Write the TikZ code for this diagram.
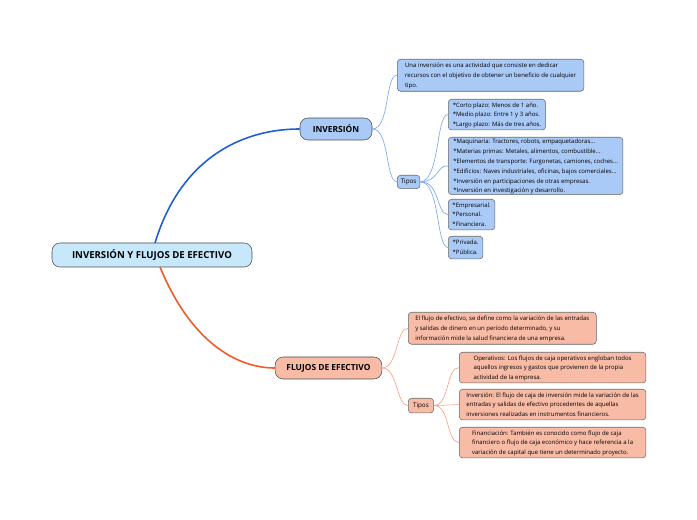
\documentclass[tikz,border=0pt]{standalone}
\usepackage{fontspec}
\setmainfont{Open Sans}
\definecolor{bfill}{HTML}{A9C9F7}
\definecolor{rootfill}{HTML}{C6E8FA}
\definecolor{bline}{HTML}{1F5FCF}
\definecolor{bthin}{HTML}{7FA9EE}
\definecolor{ofill}{HTML}{F8BBA6}
\definecolor{oline}{HTML}{F25A2A}
\definecolor{othin}{HTML}{F5A58A}
\begin{document}
\begin{tikzpicture}[x=0.75pt,y=-0.75pt,
  box/.style={draw=black!60,rounded corners=2.5pt,inner sep=0pt,inner xsep=3pt,font=\fontsize{4.5}{7.4}\selectfont,align=left,minimum width=#1,anchor=north west,text depth=0pt},
  bb/.style={box=#1,fill=bfill},
  ob/.style={box=#1,fill=ofill},
  tbox/.style={draw=black!60,rounded corners=2.5pt,inner sep=0pt,font=\fontsize{4.7}{6}\selectfont,anchor=north west},
  lvl/.style={draw=black!70,rounded corners=6pt,font=\bfseries\fontsize{6.3}{8}\selectfont,inner sep=0pt},
  bc/.style={bthin,line width=0.5pt},
  oc/.style={othin,line width=0.5pt}]
\useasboundingbox (0,0) rectangle (697,520);
% root
\node[lvl,fill=rootfill,minimum width=150pt,minimum height=18pt,font=\bfseries\fontsize{7.2}{9}\selectfont] (root) at (152,255) {INVERSIÓN Y FLUJOS DE EFECTIVO};
\node[lvl,fill=bfill,minimum width=54pt,minimum height=16.5pt] (inv) at (336,129) {INVERSIÓN};
\node[lvl,fill=ofill,minimum width=80pt,minimum height=16.5pt] (flu) at (328.5,368) {FLUJOS DE EFECTIVO};
\draw[bline,line width=1.2pt] (155,243) .. controls (180,160) and (240,129) .. (inv.west);
\draw[oline,line width=1.2pt] (160,267) .. controls (190,340) and (235,368) .. (flu.west);
% blue side
\node[bb=140pt,minimum height=24pt] (def) at (397,59) {Una inversión es una actividad que consiste en dedicar\\recursos con el objetivo de obtener un beneficio de cualquier\\tipo.};
\node[tbox,fill=bfill,minimum width=17pt,minimum height=10pt] (tip) at (397,175) {Tipos};
\node[bb=73pt,minimum height=23pt] (b1) at (448,99) {*Corto plazo: Menos de 1 año.\\[0pt]*Medio plazo: Entre 1 y 3 años.\\[0pt]*Largo plazo: Más de tres años.};
\node[bb=131pt,minimum height=43pt] (b2) at (448,137) {*Maquinaria: Tractores, robots, empaquetadoras...\\[0pt]*Materias primas: Metales, alimentos, combustible...\\[0pt]*Elementos de transporte: Furgonetas, camiones, coches...\\[0pt]*Edificios: Naves industriales, oficinas, bajos comerciales...\\[0pt]*Inversión en participaciones de otras empresas.\\[0pt]*Inversión en investigación y desarrollo.};
\node[bb=35pt,minimum height=23pt] (b3) at (448,199) {*Empresarial.\\[0pt]*Personal.\\[0pt]*Financiera.};
\node[bb=26pt,minimum height=17pt] (b4) at (448,236) {*Privada.\\[0pt]*Pública.};
\draw[bc] (inv.east) .. controls (390,129) and (385,75) .. (def.west);
\draw[bc] (inv.east) .. controls (390,129) and (385,181) .. (tip.west);
\draw[bc] (tip.east) .. controls (440,181) and (436,114) .. (b1.west);
\draw[bc] (tip.east) .. controls (440,181) and (436,165) .. (b2.west);
\draw[bc] (tip.east) .. controls (440,181) and (436,214) .. (b3.west);
\draw[bc] (tip.east) .. controls (440,181) and (436,247) .. (b4.west);
% orange side
\node[ob=141pt,minimum height=24pt] (fdef) at (408,312) {El flujo de efectivo, se define como la variación de las entradas\\y salidas de dinero en un período determinado, y su\\información mide la salud financiera de una empresa.};
\node[tbox,fill=ofill,minimum width=19pt,minimum height=11pt] (tip2) at (408,398) {Tipos};
\node[ob=140pt,minimum height=23pt] (o1) at (459,352) {Operativos: Los flujos de caja operativos engloban todos\\aquellos ingresos y gastos que provienen de la propia\\actividad de la empresa.};
\node[ob=140pt,minimum height=23pt] (o2) at (459,389) {Inversión: El flujo de caja de inversión mide la variación de las\\entradas y salidas de efectivo procedentes de aquellas\\inversiones realizadas en instrumentos financieros.};
\node[ob=140pt,minimum height=23pt] (o3) at (459,427) {Financiación: También es conocido como flujo de caja\\financiero o flujo de caja económico y hace referencia a la\\variación de capital que tiene un determinado proyecto.};
\draw[oc] (flu.east) .. controls (398,368) and (396,328) .. (fdef.west);
\draw[oc] (flu.east) .. controls (398,368) and (396,405) .. (tip2.west);
\draw[oc] (tip2.east) .. controls (450,405) and (446,367) .. (o1.west);
\draw[oc] (tip2.east) .. controls (450,405) and (446,405) .. (o2.west);
\draw[oc] (tip2.east) .. controls (450,405) and (446,442) .. (o3.west);
\end{tikzpicture}
\end{document}
